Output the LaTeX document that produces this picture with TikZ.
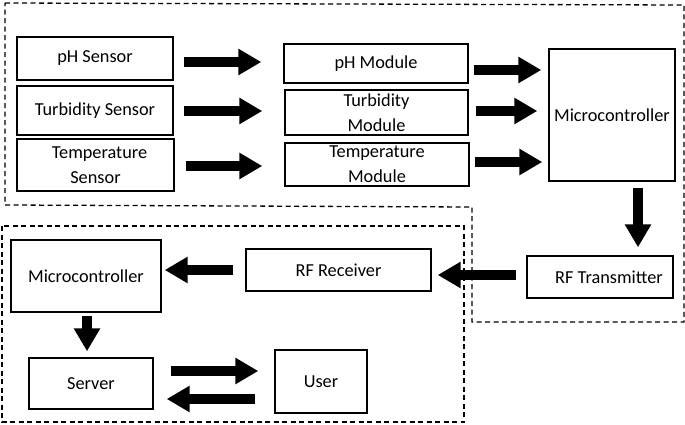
\documentclass[tikz,border=0pt]{standalone}
\usepackage{fontspec}
\setmainfont{Carlito}
\usetikzlibrary{arrows.meta}
\begin{document}
\begin{tikzpicture}[x=1pt,y=-1pt,
  box/.style={draw=black,line width=1.4pt,minimum width=#1,inner sep=0pt,align=center,font=\fontsize{18.3}{25}\selectfont},
  blk/.style={line width=10pt,-{Triangle[length=23pt,width=25pt]}},
  zone/.style={draw=black,line width=1.3pt,dash pattern=on 5pt off 3.5pt}]
\useasboundingbox (0,0) rectangle (685,425);
% zones
\draw[zone] (5,3) -- (684,5) -- (684,322) -- (472,322) -- (472,207) -- (5,205) -- cycle;
\draw[zone] (2,226) rectangle (464,422);
% top nodes
\node[box=156pt,minimum height=43pt] (phs) at (95,58.5) {pH Sensor};
\node[box=156pt,minimum height=49pt] (tbs) at (95,110.5) {Turbidity Sensor};
\node[box=157pt,minimum height=52pt] (tps) at (95.5,165) {\hspace*{8pt}Temperature\\Sensor};
\node[box=184pt,minimum height=39pt] (phm) at (376,63.5) {pH Module};
\node[box=183pt,minimum height=45pt] (tbm) at (376.5,112.5) {Turbidity\\Module};
\node[box=184pt,minimum height=43pt] (tpm) at (377,164.5) {Temperature\\Module};
\node[box=126pt,minimum height=132pt] (mc1) at (612,115) {Microcontroller};
\node[box=146pt,minimum height=42pt] (rft) at (600,277) {\hspace*{18pt}RF Transmitter};
\node[box=185pt,minimum height=42pt] (rfr) at (338.5,270) {RF Receiver};
\node[box=150pt,minimum height=72pt] (mc2) at (86,276) {Microcontroller};
\node[box=124pt,minimum height=51pt] (srv) at (91,383.5) {Server};
\node[box=92pt,minimum height=63pt] (usr) at (321,381.5) {User};
% arrows
\draw[blk,shorten <=10pt,shorten >=22pt] ([yshift=-3.5pt]phs.east) -- ([yshift=-3.5pt]phs.east -| phm.west);
\draw[blk,shorten <=10pt,shorten >=22pt] ([yshift=-0.5pt]tbs.east) -- ([yshift=-0.5pt]tbs.east -| tbm.west);
\draw[blk,shorten <=11pt,shorten >=22pt] ([yshift=-1pt]tps.east) -- ([yshift=-1pt]tps.east -| tpm.west);
\draw[blk,shorten <=5pt,shorten >=7pt] ([yshift=-6.5pt]phm.east) -- ([yshift=-6.5pt]phm.east -| mc1.west);
\draw[blk,shorten <=7pt,shorten >=11pt] ([yshift=1.5pt]tbm.east) -- ([yshift=1.5pt]tbm.east -| mc1.west);
\draw[blk,shorten <=5pt,shorten >=6pt] ([yshift=2.5pt]tpm.east) -- ([yshift=2.5pt]tpm.east -| mc1.west);
\draw[blk,shorten <=6pt,shorten >=8pt] ([xshift=26pt]mc1.south) -- ([xshift=26pt]mc1.south |- rft.north);
\draw[blk,shorten <=10pt,shorten >=6pt] ([yshift=2pt]rft.west) -- ([yshift=2pt]rft.west -| rfr.east);
\draw[blk,shorten <=12pt,shorten >=3pt] (rfr.west) -- (rfr.west -| mc2.east);
\draw[blk,shorten <=3pt,shorten >=6pt] ([xshift=1pt]mc2.south) -- ([xshift=1pt]mc2.south |- srv.north);
\draw[blk,shorten <=17pt,shorten >=16pt] ([yshift=12.5pt]srv.east) -- ([yshift=12.5pt]srv.east -| usr.west);
\draw[blk,shorten <=19pt,shorten >=13pt] ([yshift=-15.5pt]srv.east -| usr.west) -- ([yshift=-15.5pt]srv.east);
\end{tikzpicture}
\end{document}
